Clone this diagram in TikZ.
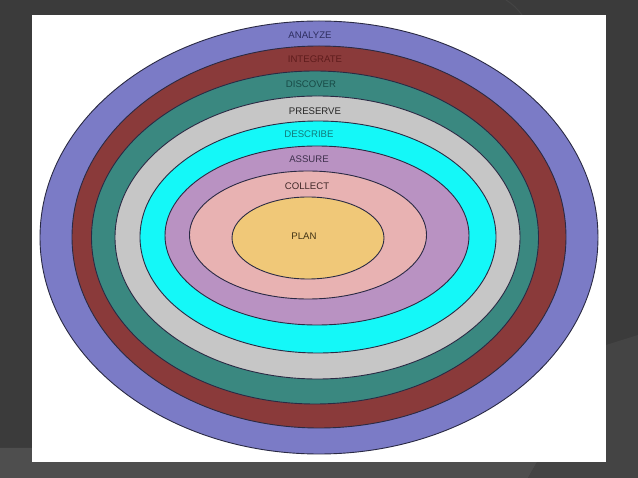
\documentclass[tikz,border=0pt]{standalone}
\usepackage{fontspec}
\setmainfont{Liberation Sans}
\definecolor{bgdark}{HTML}{3B3B3B}
\definecolor{bglight}{HTML}{4E4E4E}
\definecolor{bgmid}{HTML}{444444}
\definecolor{cAnalyze}{HTML}{7B7BC6}
\definecolor{cIntegrate}{HTML}{8A3A3A}
\definecolor{cDiscover}{HTML}{3A8880}
\definecolor{cPreserve}{HTML}{C6C6C6}
\definecolor{cDescribe}{HTML}{14F8F8}
\definecolor{cAssure}{HTML}{B992C2}
\definecolor{cCollect}{HTML}{E8B2B2}
\definecolor{cPlan}{HTML}{F0C878}
\definecolor{edge}{HTML}{2A2A44}
\definecolor{tAnalyze}{HTML}{2E2E60}
\definecolor{tIntegrate}{HTML}{5E1C1C}
\definecolor{tDiscover}{HTML}{184A46}
\definecolor{tPreserve}{HTML}{262626}
\definecolor{tDescribe}{HTML}{107A7A}
\definecolor{tAssure}{HTML}{3E304C}
\definecolor{tCollect}{HTML}{402828}
\definecolor{tPlan}{HTML}{403214}
\tikzset{
  ring/.style={draw=edge, line width=0.9pt},
  lbl/.style={inner sep=0pt, font=\fontsize{9.6}{10}\selectfont}
}
\begin{document}
\begin{tikzpicture}[x=1pt,y=-1pt]
\useasboundingbox (0,0) rectangle (638,478);
% background
\fill[bgdark] (0,0) rectangle (638,478);
\fill[bglight] (0,448) -- (545,448) -- (528,478) -- (0,478) -- cycle;
\fill[bgmid] (606,345) -- (638,335) -- (638,478) -- (528,478) -- (545,448) -- (606,448) -- cycle;
\draw[bgmid, line width=1pt] (506,0) to[bend left=10] (522,15);
% white panel
\fill[white] (32,15) rectangle (606,462);
% nested ellipses
\filldraw[ring, fill=cAnalyze]   (319,237.5) ellipse [x radius=279, y radius=216.5];
\filldraw[ring, fill=cIntegrate] (319,237)   ellipse [x radius=247, y radius=191];
\filldraw[ring, fill=cDiscover]  (315,237.5) ellipse [x radius=223.5, y radius=166.5];
\filldraw[ring, fill=cPreserve]  (317.5,237.5) ellipse [x radius=202.5, y radius=141.5];
\filldraw[ring, fill=cDescribe]  (318,237)   ellipse [x radius=178, y radius=116];
\filldraw[ring, fill=cAssure]    (317,235.5) ellipse [x radius=152, y radius=89.5];
\filldraw[ring, fill=cCollect]   (308,235)   ellipse [x radius=118.5, y radius=64];
\filldraw[ring, fill=cPlan]      (308,238)   ellipse [x radius=76, y radius=41];
% labels
\node[lbl, text=tAnalyze]   (analyze)   at (310,35)  {ANALYZE};
\node[lbl, text=tIntegrate] (integrate) at (315,59)  {INTEGRATE};
\node[lbl, text=tDiscover]  (discover)  at (311,84)  {DISCOVER};
\node[lbl, text=tPreserve]  (preserve)  at (315,111) {PRESERVE};
\node[lbl, text=tDescribe]  (describe)  at (309,134) {DESCRIBE};
\node[lbl, text=tAssure]    (assure)    at (309,159) {ASSURE};
\node[lbl, text=tCollect]   (collect)   at (307,186) {COLLECT};
\node[lbl, text=tPlan]      (plan)      at (304,236) {PLAN};
\end{tikzpicture}
\end{document}
